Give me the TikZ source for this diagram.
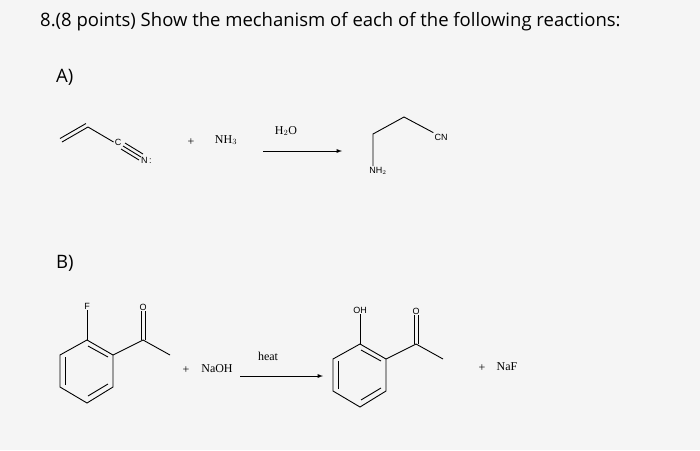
\documentclass[tikz,border=0pt]{standalone}
\usepackage{fontspec}
\usetikzlibrary{calc}
\setmainfont{Liberation Serif}
\newfontfamily\hsans{Open Sans}
\newfontfamily\lsans{Liberation Sans}
\begin{document}
\begin{tikzpicture}[x=1pt,y=-1pt,
  bond/.style={line width=0.9pt},
  atm/.style={font=\lsans\fontsize{9}{9}\selectfont,inner sep=1pt},
  rg/.style={font=\fontsize{12}{12}\selectfont,inner sep=1pt},
  hd/.style={font=\hsans\fontsize{18.5}{18.5}\selectfont,anchor=west,inner sep=0pt}]
\fill[blue!3!gray!8] (0,0) rectangle (700,450);
\useasboundingbox (0,0) rectangle (700,450);
\node[hd] (title) at (40,22) {8.(8 points) Show the mechanism of each of the following reactions:};
\node[hd] (la) at (56,77) {A)};
\node[hd] (lb) at (56,263) {B)};
% A
\coordinate (a1) at (62,142); \coordinate (a2) at (88,127);
\node[atm] (c) at (118,142) {C};
\node[atm,anchor=west] (n) at (140,160) {N\,:};
\draw[bond] (a1)--(a2); \draw[bond] ($(a1)+(-2,-3.5)$)--($(a2)+(-2,-3.5)$);
\draw[bond] (a2)--(c.west);
\coordinate (t1) at (123,146); \coordinate (t2) at (141,157);
\draw[bond] (t1)--(t2);
\draw[bond] ($(t1)+(2,-3)$)--($(t2)+(2,-3)$);
\draw[bond] ($(t1)+(-2,3)$)--($(t2)+(-2,3)$);
\node[rg] (p1) at (191,142) {+};
\node[rg] (nh3) at (226,140) {NH$_3$};
\node[rg] (h2o) at (286,131) {H$_2$O};
\coordinate (ar1) at (263,151); \coordinate (ar2) at (342,151);
\draw[bond,-latex] (ar1)--(ar2);
\node[atm] (nh2) at (378,171) {NH$_2$};
\node[atm] (cn) at (441,137) {CN};
\coordinate (b1) at (373,134); \coordinate (b2) at (404,117);
\draw[bond] (nh2.north -| b1)--(b1)--(b2)--(cn.north west);
% B
\foreach \dx/\dy/\s/\top in {0/0/r/F,273/4/q/OH}{
 \begin{scope}[shift={(\dx,\dy)}]
 \coordinate (\s1) at (87,340); \coordinate (\s2) at (113,355); \coordinate (\s3) at (113,387);
 \coordinate (\s4) at (87,403); \coordinate (\s5) at (60,387); \coordinate (\s6) at (60,355);
 \draw[bond] (\s1)--(\s2)--(\s3)--(\s4)--(\s5)--(\s6)--cycle;
 \draw[bond] (88,346)--(108,357); \draw[bond] (108,384)--(88,396); \draw[bond] (65,385)--(65,357);
 \node[atm] (\s f) at (87,306) {\top};
 \draw[bond] (\s1)--(\s f.south);
 \coordinate (\s c) at (143,340); \coordinate (\s m) at (170,355);
 \node[atm] (\s o) at (143,307) {O};
 \draw[bond] (\s2)--(\s c)--(\s m);
 \draw[bond] ($(\s c)+(-2,0)$)--($(\s o.south)+(-2,0)$);
 \draw[bond] ($(\s c)+(2,0)$)--($(\s o.south)+(2,0)$);
 \end{scope}}
\node[rg] (pb) at (186,370) {+};
\node[rg] (naoh) at (217,369) {NaOH};
\node[rg] (heat) at (268,356) {heat};
\coordinate (br1) at (240,376); \coordinate (br2) at (323,376);
\draw[bond,-latex] (br1)--(br2);
\node[rg] (pb2) at (482,368) {+};
\node[rg] (naf) at (507,367) {NaF};
\end{tikzpicture}
\end{document}
